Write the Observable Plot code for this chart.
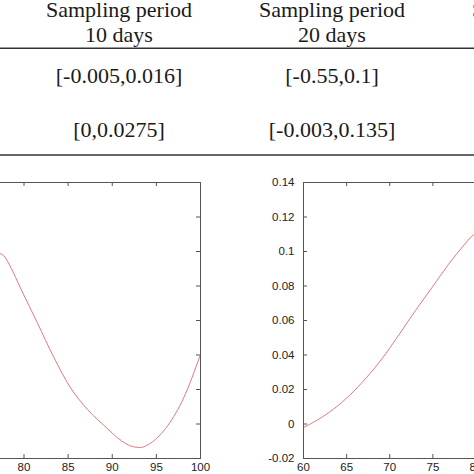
<!DOCTYPE html>
<html>
<head>
<meta charset="utf-8">
<script src="https://cdn.jsdelivr.net/npm/d3@7"></script>
<script src="https://cdn.jsdelivr.net/npm/@observablehq/plot@0.6"></script>
<style>
  html, body { margin: 0; padding: 0; background: #fff; }
  #wrap { position: relative; width: 474px; height: 474px; overflow: hidden; background: #fff; }
  #wrap > * { position: absolute; }
</style>
</head>
<body>
<div id="wrap"></div>
<script>
// ---- table content ----
const headerLine1 = ["Sampling period", "Sampling period", "Sampling period"];
const headerLine2 = ["10 days", "20 days", "30 days"];
const row1 = ["[-0.005,0.016]", "[-0.55,0.1]", ""];
const row2 = ["[0,0.0275]", "[-0.003,0.135]", ""];

// ---- panel 1 (10 days) ----
const p1X = [77.3, 77.7, 78.5, 79.6, 81.5, 83.4, 85.3, 87.2, 89.4, 90.6, 92.4, 93.2, 94.3, 96.3, 98.1, 100];
const p1Y = [0.0297, 0.0294, 0.0277, 0.0247, 0.0197, 0.0146, 0.0102, 0.0071, 0.0044, 0.0030, 0.0017, 0.0016, 0.0022, 0.0048, 0.0088, 0.0151];
const p1XTicks = [60, 65, 70, 75, 80, 85, 90, 95, 100];
const p1YTicks = [0, 0.005, 0.01, 0.015, 0.02, 0.025, 0.03, 0.035, 0.04];

// ---- panel 2 (20 days) ----
const p2X = [60, 61.6, 63.5, 65.4, 67.3, 69.2, 71.1, 73.0, 74.0, 74.9, 76.8, 78.7, 79.5, 79.9];
const p2Y = [-0.002, 0.0023, 0.0087, 0.0169, 0.0269, 0.0385, 0.052, 0.0659, 0.0729, 0.0791, 0.0925, 0.1043, 0.1088, 0.1105];
const p2XTicks = [60, 65, 70, 75, 80, 85, 90, 95, 100];
const p2YTicks = [-0.02, 0, 0.02, 0.04, 0.06, 0.08, 0.1, 0.12, 0.14];

const wrap = document.getElementById("wrap");

// ---- table drawn as svg ----
const colCenters = [119, 332, 545];
const tsvg = d3.create("svg").attr("width", 474).attr("height", 170)
  .style("left", "0px").style("top", "0px");
const tg = tsvg.append("g")
  .attr("font-family", "'Liberation Serif', 'Times New Roman', serif")
  .attr("font-size", 22).attr("fill", "#1a1a1a").attr("text-anchor", "middle");
const rows = [[headerLine1, 16.5], [headerLine2, 42], [row1, 83], [row2, 137]];
rows.forEach(([arr, yb]) => {
  arr.forEach((t, i) => tg.append("text").attr("x", colCenters[i]).attr("y", yb).text(t));
});
[48.3, 155].forEach(y => tsvg.append("line").attr("x1", 0).attr("x2", 474)
  .attr("y1", y).attr("y2", y).attr("stroke", "#333").attr("stroke-width", 1.4));
wrap.appendChild(tsvg.node());

// ---- plot panels ----
const fmt = d => String(+d.toFixed(4));
function panel(xs, ys, xTicks, yTicks, innerW, innerH) {
  const mL = 50, mR = 10, mT = 10, mB = 30;
  const data = xs.map((x, i) => ({x, y: ys[i]}));
  const tickColor = "#555";
  return Plot.plot({
    width: mL + innerW + mR,
    height: mT + innerH + mB,
    marginLeft: mL, marginRight: mR, marginTop: mT, marginBottom: mB,
    style: {fontFamily: "'Liberation Sans', Arial, sans-serif", fontSize: "11.5px", color: "#222", background: "transparent"},
    x: {domain: [xTicks[0], xTicks[xTicks.length - 1]]},
    y: {domain: [yTicks[0], yTicks[yTicks.length - 1]]},
    marks: [
      Plot.axisX(xTicks, {tickSize: 0, tickPadding: 4, tickFormat: fmt, fill: "#222", label: null}),
      Plot.axisY(yTicks, {tickSize: 0, tickPadding: 9, tickFormat: fmt, fill: "#222", label: null}),
      Plot.tickX(xTicks, {x: d => d, stroke: tickColor, insetTop: innerH - 4}),
      Plot.tickX(xTicks, {x: d => d, stroke: tickColor, insetBottom: innerH - 4}),
      Plot.tickY(yTicks, {y: d => d, stroke: tickColor, insetRight: innerW - 4}),
      Plot.tickY(yTicks, {y: d => d, stroke: tickColor, insetLeft: innerW - 4}),
      Plot.line(data, {x: "x", y: "y", stroke: "#e07b80", strokeWidth: 1, curve: "monotone-x"}),
      Plot.frame({stroke: "#555", strokeWidth: 1})
    ]
  });
}

const left = panel(p1X, p1Y, p1XTicks, p1YTicks, 353, 276);
left.style.left = (-153 - 50) + "px";
left.style.top = (182 - 10) + "px";
wrap.appendChild(left);

const right = panel(p2X, p2Y, p2XTicks, p2YTicks, 345, 276);
right.style.left = (302.7 - 50) + "px";
right.style.top = (182 - 10) + "px";
wrap.appendChild(right);
</script>
</body>
</html>
